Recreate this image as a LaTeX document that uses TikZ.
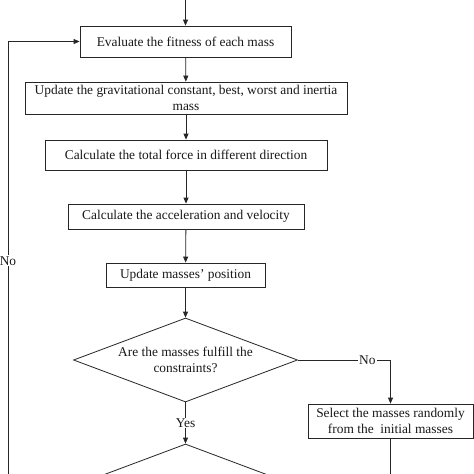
\documentclass[tikz,border=0pt]{standalone}
\usepackage{fontspec}
\setmainfont{Liberation Serif}
\usetikzlibrary{arrows.meta,shapes.geometric}
\begin{document}
\begin{tikzpicture}[x=1pt,y=-1pt,
  every node/.style={font=\fontsize{13.4}{16}\selectfont, text=black!90},
  box/.style={draw=black!85, line width=0.8pt, rectangle, inner sep=0pt, align=center},
  dec/.style={draw=black!85, line width=0.8pt, diamond, aspect=2.667, inner sep=0pt, align=center},
  conn/.style={draw=black!85, line width=0.8pt},
  arr/.style={conn, -{Triangle[length=6pt,width=5pt]}},
  lbl/.style={fill=white, inner sep=1pt}]
\clip (0,0) rectangle (474,474);
\fill[white] (0,0) rectangle (474,474);

\node[box, minimum width=211pt, minimum height=31pt] (b1) at (185.5,41.5) {Evaluate the fitness of each mass};
\node[box, minimum width=322pt, minimum height=32pt] (b2) at (186,98) {Update the gravitational constant, best, worst and inertia\\mass};
\node[box, minimum width=282pt, minimum height=30pt] (b3) at (186,155) {Calculate the total force in different direction};
\node[box, minimum width=236pt, minimum height=25pt] (b4) at (186,216.5) {Calculate the acceleration and velocity};
\node[box, minimum width=159pt, minimum height=24pt] (b5) at (185.5,275) {Update masses' position};
\node[dec, minimum width=224pt, minimum height=84pt] (d1) at (185.5,360) {Are the masses fulfill the\\constraints?};
\node[box, minimum width=165pt, minimum height=34pt] (b6) at (390.5,421) {Select the masses randomly\\from the\ \ initial masses};
\node[dec, minimum width=224pt, minimum height=84pt] (d2) at (185.5,486) {};

\coordinate (top) at (185.5,-2);
\coordinate (loopbot) at (8,480);
\coordinate (loopcorner) at (8,41.5);
\coordinate (nocorner) at (390.5,360);
\coordinate (rbot) at (390.5,480);

\draw[arr] (top) -- (b1.north);
\draw[arr] (b1) -- (b2);
\draw[arr] (b2) -- (b3);
\draw[arr] (b3) -- (b4);
\draw[arr] (b4) -- (b5);
\draw[arr] (b5) -- (d1.north);
\draw[arr] (d1.south) -- node[lbl, pos=0.5] {Yes} (d2.north);
\draw[arr] (d1.east) -- node[lbl, pos=0.75] {No} (nocorner) -- (b6.north);
\draw[conn] (b6.south) -- (rbot);
\draw[arr] (loopbot) -- node[lbl, pos=0.5] {No} (loopcorner) -- (b1.west);
\end{tikzpicture}
\end{document}
